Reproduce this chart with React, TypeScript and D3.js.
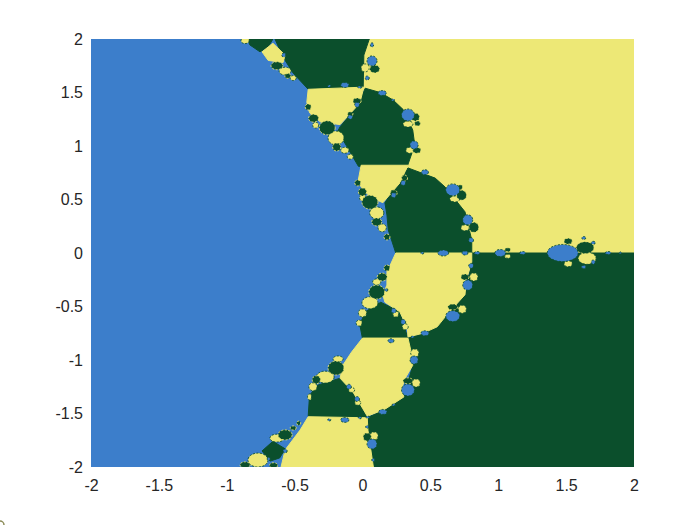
import React, { useEffect, useRef } from "react";
import * as d3 from "d3";

type Pt = [number, number];
type Bead = [number, number, number, number]; // cx, cy, rx, ry in axis units

const BLUE = "#3c7ecb";
const GREEN = "#0b4f2c";
const YELLOW = "#ede876";

const xTicks = [-2, -1.5, -1, -0.5, 0, 0.5, 1, 1.5, 2];
const yTicks = [-2, -1.5, -1, -0.5, 0, 0.5, 1, 1.5, 2];

// region outlines, axis units
const upperRight: Pt[] = [[0, 2], [2, 2], [2, 0], [0.28, 0], [0.28, 0.78], [0, 1.55]];
const lowerRight: Pt[] = [[2, 0], [2, -2], [0.07, -2], [0.035, -1.54], [0.165, -1.46], [0.305, -1.345], [0.37, -1.05], [0.335, -0.795], [0.445, -0.75], [0.55, -0.69], [0.62, -0.58], [0.755, -0.39], [0.805, -0.085], [0.805, 0]];

const greenRegions: Pt[][] = [
  [[-0.645, 2], [0.05, 2], [0.01, 1.85], [0.005, 1.54], [-0.4, 1.53], [-0.51, 1.68], [-0.585, 1.83]],
  [[0.02, 1.54], [0.13, 1.5], [0.225, 1.43], [0.3, 1.34], [0.37, 1.15], [0.385, 1.01], [0.33, 0.81], [-0.03, 0.81], [-0.145, 1.06], [-0.19, 1.12], [-0.165, 1.18], [-0.08, 1.31], [-0.03, 1.4]],
  [[0.335, 0.795], [0.535, 0.7], [0.61, 0.615], [0.755, 0.385], [0.805, 0.12], [0.805, 0], [0.245, 0], [0.19, 0.215], [0.18, 0.355], [0.165, 0.47]],
  [[0.135, -0.46], [0.275, -0.55], [0.335, -0.8], [0, -0.8], [-0.02, -0.67], [0.02, -0.55]],
  [[-0.165, -1.17], [-0.07, -1.3], [0.035, -1.53], [0, -1.55], [-0.4, -1.525], [-0.39, -1.33], [-0.33, -1.235]],
  [[-0.845, 2], [-0.66, 2], [-0.695, 1.925], [-0.755, 1.88], [-0.83, 1.945]],
];

const yellowRegions: Pt[][] = [
  [[-0.4, 1.53], [0.01, 1.55], [-0.02, 1.4], [-0.165, 1.2], [-0.31, 1.225], [-0.39, 1.31], [-0.41, 1.41]],
  [[-0.01, 0.82], [0.335, 0.82], [0.275, 0.655], [0.15, 0.47], [0.055, 0.525], [-0.035, 0.655]],
  [[0.245, 0], [0.805, 0], [0.805, -0.085], [0.765, -0.25], [0.755, -0.39], [0.62, -0.58], [0.55, -0.69], [0.445, -0.75], [0.335, -0.785], [0.33, -0.7], [0.275, -0.55], [0.165, -0.46], [0.15, -0.39], [0.18, -0.3], [0.18, -0.18]],
  [[0, -0.795], [0.335, -0.795], [0.355, -0.905], [0.37, -1.05], [0.315, -1.17], [0.285, -1.28], [0.305, -1.345], [0.165, -1.46], [0.035, -1.525], [0, -1.45], [-0.07, -1.3], [-0.165, -1.17], [-0.145, -1.05], [-0.08, -0.925]],
  [[-0.4, -1.53], [0.035, -1.54], [0.04, -1.655], [0.08, -2], [-0.6, -2], [-0.57, -1.84], [-0.46, -1.655]],
  [[-0.74, 1.88], [-0.66, 1.96], [-0.57, 1.85], [-0.585, 1.78], [-0.695, 1.8]],
];

const lowerGreenBlob: Pt[] = [[-0.74, -1.85], [-0.66, -1.76], [-0.57, -1.83], [-0.61, -1.915], [-0.68, -1.945]];

const greenBeads: Bead[] = [
  [-0.63, 1.75, 0.044, 0.037], [-0.55, 1.655, 0.022, 0.023], [-0.4, 1.365, 0.022, 0.028],
  [-0.36, 1.26, 0.037, 0.037], [-0.26, 1.17, 0.059, 0.065], [-0.19, 0.99, 0.03, 0.037],
  [-0.035, 0.655, 0.022, 0.028], [0, 0.57, 0.03, 0.037], [0.055, 0.475, 0.059, 0.065],
  [0.105, 0.29, 0.037, 0.037], [0.18, 0.15, 0.022, 0.028], [0.09, 1.72, 0.037, 0.037],
  [0.73, 0.54, 0.037, 0.047], [0.72, 0.615, 0.018, 0.023], [0.82, 0.24, 0.037, 0.047],
  [0.31, 0.7, 0.022, 0.028], [0.23, 0.56, 0.025, 0.03], [0.18, -0.14, 0.022, 0.028],
  [0.145, -0.225, 0.037, 0.037], [0.105, -0.365, 0.059, 0.065], [-0.195, -1.075, 0.059, 0.065],
  [-0.34, -1.185, 0.03, 0.037], [-0.57, -1.7, 0.052, 0.047], [-0.51, -1.635, 0.022, 0.019],
  [-0.47, -1.59, 0.015, 0.019], [-0.865, -1.98, 0.037, 0.028], [0.665, -0.505, 0.037, 0.028],
  [0.755, -0.225, 0.03, 0.028], [0.335, -1.195, 0.037, 0.028], [0.035, -1.72, 0.03, 0.037],
  [1.07, 0.03, 0.022, 0.019], [1.515, 0.11, 0.03, 0.028], [1.64, 0.05, 0.066, 0.056],
  [0.39, 1.27, 0.03, 0.037], [0.405, 1.21, 0.022, 0.023], [0.4, 0.96, 0.03, 0.028],
  [-0.04, 1.42, 0.03, 0.028], [-0.09, 1.3, 0.02, 0.02], [-0.655, -1.985, 0.03, 0.025],
];

const yellowBeads: Bead[] = [
  [-0.865, 1.985, 0.03, 0.028], [-0.57, 1.7, 0.044, 0.037], [-0.51, 1.635, 0.022, 0.023],
  [-0.345, 1.195, 0.022, 0.028], [-0.195, 1.075, 0.059, 0.065], [-0.13, 0.96, 0.03, 0.028],
  [-0.09, 0.9, 0.022, 0.023], [0, 0.515, 0.022, 0.028], [0.105, 0.375, 0.052, 0.056],
  [0.145, 0.235, 0.03, 0.037], [0.02, 1.73, 0.03, 0.037], [0.68, 0.505, 0.037, 0.028],
  [0.755, 0.235, 0.03, 0.028], [0.105, -0.27, 0.03, 0.028], [0.055, -0.465, 0.059, 0.056],
  [0, -0.56, 0.03, 0.037], [-0.025, -0.655, 0.022, 0.028], [-0.275, -1.16, 0.066, 0.056],
  [-0.365, -1.25, 0.03, 0.037], [-0.39, -1.345, 0.015, 0.028], [-0.18, -0.99, 0.037, 0.028],
  [-0.63, -1.73, 0.052, 0.037], [-0.77, -1.935, 0.074, 0.065], [0.735, -0.525, 0.03, 0.037],
  [0.82, -0.225, 0.03, 0.037], [0.395, -1.215, 0.03, 0.037], [0.085, -1.71, 0.03, 0.037],
  [0.385, -0.935, 0.03, 0.037], [1.07, -0.03, 0.022, 0.019], [1.655, -0.05, 0.066, 0.056],
  [1.515, -0.1, 0.03, 0.028], [0.245, -0.57, 0.022, 0.028], [0.315, -0.69, 0.022, 0.028],
  [-0.035, -1.4, 0.022, 0.023], [-0.08, -1.28, 0.022, 0.023], [0.335, 1.205, 0.037, 0.028],
  [0.35, 0.96, 0.03, 0.028],
];

const blueBeads: Bead[] = [
  [0.07, 1.795, 0.037, 0.047], [0.07, 1.945, 0.012, 0.019], [0.035, 1.635, 0.015, 0.019],
  [-0.58, 1.85, 0.015, 0.019], [-0.13, 1.57, 0.03, 0.023], [-0.245, 1.56, 0.012, 0.01],
  [-0.02, 1.55, 0.015, 0.01], [0.145, 1.495, 0.03, 0.023], [0.225, 1.43, 0.012, 0.01],
  [0.335, 1.29, 0.048, 0.056], [0.38, 1.01, 0.03, 0.037], [0.46, 0.755, 0.026, 0.023],
  [0.665, 0.59, 0.052, 0.056], [0.775, 0.31, 0.037, 0.047], [0.8, 0.12, 0.018, 0.023],
  [0.3, 0.655, 0.018, 0.023], [0.23, 0.54, 0.018, 0.023], [-0.04, 1.385, 0.018, 0.023],
  [-0.09, 1.27, 0.018, 0.02], [0.44, 0, 0.012, 0.01], [0.595, 0, 0.04, 0.028],
  [0.755, 0, 0.022, 0.019], [0.845, 0, 0.022, 0.014], [1.015, 0, 0.04, 0.033],
  [1.18, 0, 0.022, 0.014], [1.475, 0, 0.114, 0.08], [1.81, 0, 0.022, 0.014],
  [1.9, 0, 0.008, 0.01], [1.63, 0.14, 0.015, 0.014], [1.7, 0.095, 0.015, 0.014],
  [1.63, -0.13, 0.018, 0.014], [1.7, -0.085, 0.015, 0.019], [0.21, -0.82, 0.022, 0.019],
  [0.46, -0.75, 0.03, 0.023], [0.37, -0.785, 0.012, 0.01], [0.23, -0.54, 0.018, 0.023],
  [0.3, -0.645, 0.018, 0.023], [0.665, -0.59, 0.052, 0.051], [0.775, -0.3, 0.037, 0.047],
  [0.8, -0.12, 0.018, 0.023], [0.175, -0.345, 0.012, 0.014], [0.38, -1, 0.03, 0.037],
  [0.335, -1.28, 0.048, 0.056], [0.15, -1.485, 0.03, 0.023], [0.04, -1.535, 0.015, 0.01],
  [0.23, -1.42, 0.012, 0.01], [-0.04, -1.365, 0.018, 0.023], [-0.1, -1.25, 0.018, 0.023],
  [-0.13, -1.56, 0.03, 0.023], [-0.245, -1.56, 0.012, 0.01], [-0.02, -1.54, 0.012, 0.01],
  [0.07, -1.785, 0.037, 0.047], [0.035, -1.625, 0.012, 0.014], [0.08, -1.935, 0.012, 0.014],
  [-0.57, -1.85, 0.015, 0.019], [-0.69, -1.925, 0.012, 0.014],
];

const WIDTH = 700;
const HEIGHT = 525;
const PLOT = { left: 91, right: 634, top: 39, bottom: 467 };

const App = () => {
  const svgRef = useRef<SVGSVGElement>(null);

  useEffect(() => {
    const xScale = d3.scaleLinear().domain([-2, 2]).range([PLOT.left, PLOT.right]);
    const yScale = d3.scaleLinear().domain([-2, 2]).range([PLOT.bottom, PLOT.top]);

    const svg = d3.select(svgRef.current);
    svg.selectAll("*").remove();

    svg.append("defs").append("clipPath").attr("id", "plot-clip")
      .append("rect")
      .attr("x", PLOT.left).attr("y", PLOT.top)
      .attr("width", PLOT.right - PLOT.left).attr("height", PLOT.bottom - PLOT.top);

    const plot = svg.append("g").attr("clip-path", "url(#plot-clip)");

    plot.append("rect")
      .attr("x", PLOT.left).attr("y", PLOT.top)
      .attr("width", PLOT.right - PLOT.left).attr("height", PLOT.bottom - PLOT.top)
      .attr("fill", BLUE);

    const outline = d3.line<Pt>()
      .x((d) => xScale(d[0]))
      .y((d) => yScale(d[1]))
      .curve(d3.curveLinearClosed);

    const drawRegions = (regions: Pt[][], color: string) => {
      plot.append("g").selectAll("path").data(regions).join("path")
        .attr("d", (d) => outline(d))
        .attr("fill", color)
        .attr("stroke", color)
        .attr("stroke-width", 1);
    };

    const drawBeads = (beads: Bead[], color: string, ring?: string) => {
      plot.append("g").selectAll("ellipse").data(beads).join("ellipse")
        .attr("cx", (d) => xScale(d[0]))
        .attr("cy", (d) => yScale(d[1]))
        .attr("rx", (d) => xScale(d[2]) - xScale(0))
        .attr("ry", (d) => yScale(0) - yScale(d[3]))
        .attr("fill", color)
        .attr("stroke", ring || "none")
        .attr("stroke-width", ring ? 0.9 : 0)
        .attr("stroke-dasharray", ring ? "2 1.5" : null);
    };

    drawRegions([upperRight], YELLOW);
    drawRegions([lowerRight], GREEN);
    drawRegions(greenRegions, GREEN);
    drawRegions(yellowRegions, YELLOW);
    drawRegions([lowerGreenBlob], GREEN);
    drawBeads(yellowBeads, YELLOW, GREEN);
    drawBeads(greenBeads, GREEN, YELLOW);
    drawBeads(blueBeads, BLUE, GREEN);

    const xAxis = d3.axisBottom(xScale).tickValues(xTicks).tickSize(0).tickPadding(13).tickFormat((d) => String(d));
    const yAxis = d3.axisLeft(yScale).tickValues(yTicks).tickSize(0).tickPadding(8).tickFormat((d) => String(d));

    const gx = svg.append("g").attr("transform", `translate(0,${PLOT.bottom})`).call(xAxis);
    const gy = svg.append("g").attr("transform", `translate(${PLOT.left},0)`).call(yAxis);
    [gx, gy].forEach((g) => {
      g.select(".domain").remove();
      g.selectAll("text")
        .attr("fill", "#262626")
        .style("font-family", "'Liberation Sans', Arial, sans-serif")
        .style("font-size", "16px");
    });

    // the small scrap in the bottom-left corner of the screenshot
    svg.append("circle")
      .attr("cx", 0).attr("cy", HEIGHT).attr("r", 4)
      .attr("fill", "#ffffff").attr("stroke", "#8c8c58").attr("stroke-width", 1.5);
  }, []);

  return (
    <svg
      ref={svgRef}
      width={WIDTH}
      height={HEIGHT}
      style={{ position: "absolute", left: 0, top: 0, background: "#ffffff" }}
    />
  );
};

export default App;
